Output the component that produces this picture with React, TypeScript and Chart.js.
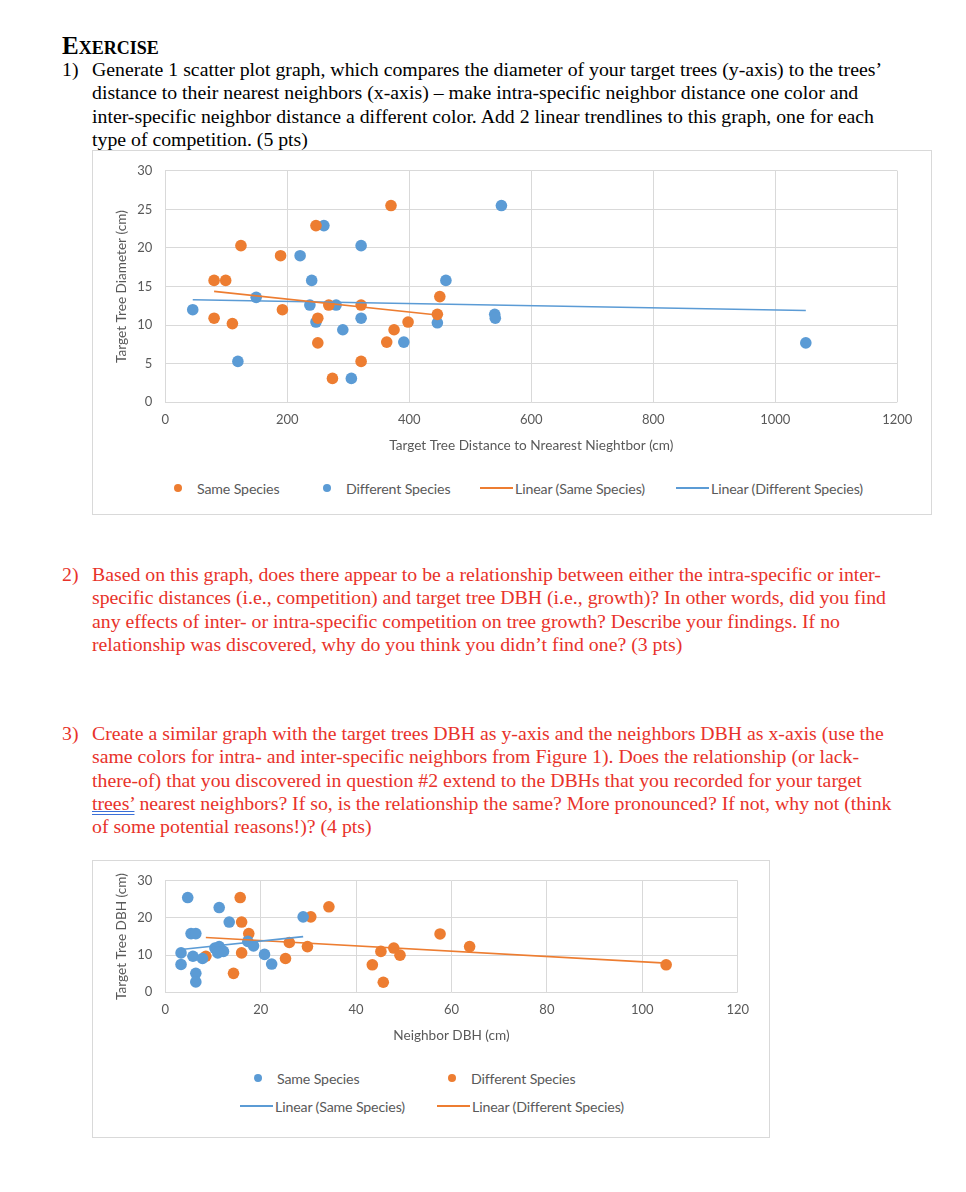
import { useEffect, useRef } from 'react';
import Chart from 'chart.js/auto';

const ORANGE = '#ED7D31';
const BLUE = '#5B9BD5';
const RED = '#E8322A';
const AXIS_TEXT = '#595959';
const GRID = '#D9D9D9';
const CHART_FONT = 'Lato, "Open Sans", sans-serif';
const DOC_FONT = '"Liberation Serif", "Times New Roman", serif';

// figure 1: target tree distance to nearest neighbor (cm) vs target tree diameter (cm)
const sameDist = [80, 99, 124, 80, 110, 189, 192, 247, 250, 250, 268, 274, 321, 321, 370, 363, 375, 398, 446, 450];
const sameDiam = [15.8, 15.8, 20.3, 10.9, 10.2, 19.0, 12.0, 22.9, 10.9, 7.7, 12.6, 3.1, 12.6, 5.3, 25.5, 7.8, 9.4, 10.4, 11.4, 13.7];
const diffDist = [45, 119, 149, 221, 240, 237, 247, 260, 280, 291, 305, 321, 321, 391, 446, 460, 540, 541, 551, 1050];
const diffDiam = [12.0, 5.3, 13.6, 19.0, 15.8, 12.6, 10.4, 22.9, 12.6, 9.4, 3.1, 20.3, 10.9, 7.8, 10.3, 15.8, 11.4, 10.9, 25.5, 7.7];

// figure 2: neighbor DBH (cm) vs target tree DBH (cm)
const sameNbrDbh = [4.7, 11.3, 13.4, 5.4, 6.4, 3.3, 3.3, 5.8, 7.8, 6.4, 6.4, 10.4, 11.3, 11.5, 12.2, 11.0, 17.3, 18.5, 20.8, 22.3, 28.9];
const sameTgtDbh = [25.5, 22.8, 18.9, 15.8, 15.8, 10.6, 7.5, 9.7, 9.1, 5.1, 2.8, 11.9, 12.3, 11.0, 11.0, 10.6, 13.7, 12.5, 10.2, 7.6, 20.3];
const diffNbrDbh = [15.7, 16.0, 17.5, 8.5, 16.0, 14.3, 25.2, 26.0, 29.8, 30.5, 34.3, 43.4, 45.2, 45.7, 47.9, 49.2, 57.6, 63.8, 105];
const diffTgtDbh = [25.5, 18.9, 15.8, 9.7, 10.6, 5.1, 9.1, 13.4, 12.3, 20.3, 23.0, 7.4, 11.0, 2.7, 11.9, 10.0, 15.7, 12.3, 7.4];

type Series = { label: string; color: string; xs: number[]; ys: number[] };

// least squares trendline over the range of the data
function trend(xs: number[], ys: number[]) {
  const n = xs.length;
  const mx = xs.reduce((a, b) => a + b, 0) / n;
  const my = ys.reduce((a, b) => a + b, 0) / n;
  let sxy = 0;
  let sxx = 0;
  for (let i = 0; i < n; i++) {
    sxy += (xs[i] - mx) * (ys[i] - my);
    sxx += (xs[i] - mx) * (xs[i] - mx);
  }
  const b = sxy / sxx;
  const a = my - b * mx;
  const lo = Math.min(...xs);
  const hi = Math.max(...xs);
  return [
    { x: lo, y: a + b * lo },
    { x: hi, y: a + b * hi },
  ];
}

type ScatterProps = {
  series: Series[];
  xMax: number;
  xStep: number;
  yStep: number;
  xTitle: string;
  yTitle: string;
  width: number;
  height: number;
  padTop: number;
  padRight: number;
};

const Scatter = ({ series, xMax, xStep, yStep, xTitle, yTitle, width, height, padTop, padRight }: ScatterProps) => {
  const chartRef = useRef<HTMLCanvasElement>(null);

  useEffect(() => {
    const ctx = chartRef.current!.getContext('2d')!;
    const tickFont = { family: CHART_FONT, size: 13 };
    const titleFont = { family: CHART_FONT, size: 13.6 };
    const points = series.map(s => ({
      label: s.label,
      data: s.xs.map((x, i) => ({ x, y: s.ys[i] })),
      backgroundColor: s.color,
      borderColor: s.color,
      pointRadius: 5.8,
      pointHoverRadius: 5.8,
      borderWidth: 0,
      order: 2,
    }));
    const lines = series.map(s => ({
      label: 'Linear (' + s.label + ')',
      data: trend(s.xs, s.ys),
      showLine: true,
      borderColor: s.color,
      backgroundColor: s.color,
      borderWidth: 1.6,
      pointRadius: 0,
      order: 1,
    }));
    const chartInstance = new Chart(ctx, {
      type: 'scatter',
      data: { datasets: [...points, ...lines] as any },
      options: {
        animation: false,
        responsive: false,
        layout: { padding: { top: padTop, right: padRight, left: 0, bottom: 0 } },
        plugins: { legend: { display: false }, tooltip: { enabled: false } },
        scales: {
          x: {
            type: 'linear',
            min: 0,
            max: xMax,
            ticks: { stepSize: xStep, color: AXIS_TEXT, font: tickFont, padding: 10, callback: (v: any) => String(v) },
            grid: { color: GRID, drawTicks: false },
            border: { display: false },
            title: { display: true, text: xTitle, color: AXIS_TEXT, font: titleFont, padding: { bottom: 6 } },
            afterFit: (s: any) => {
              s.height = 57.7;
            },
          },
          y: {
            type: 'linear',
            min: 0,
            max: 30,
            ticks: { stepSize: yStep, color: AXIS_TEXT, font: tickFont, padding: 13 },
            grid: { color: GRID, drawTicks: false },
            border: { display: false },
            title: { display: true, text: yTitle, color: AXIS_TEXT, font: titleFont, padding: { top: 21 } },
            afterFit: (s: any) => {
              s.width = 73.3;
            },
          },
        },
      },
    });

    return () => {
      chartInstance.destroy();
    };
  }, [series]);

  return <canvas ref={chartRef} width={width} height={height} style={{ width, height, display: 'block' }} />;
};

const Dot = ({ color }: { color: string }) => (
  <span style={{ display: 'inline-block', width: 8, height: 8, borderRadius: 4, background: color }} />
);
const Dash = ({ color }: { color: string }) => (
  <span style={{ display: 'inline-block', width: 33, height: 2, background: color }} />
);

type LegendItem = { left: number; top: number; mark: 'dot' | 'line'; color: string; text: string };

const Legend = ({ items }: { items: LegendItem[] }) => (
  <>
    {items.map(it => (
      <div
        key={it.text}
        style={{
          position: 'absolute',
          left: it.left,
          top: it.top - 9,
          height: 18,
          display: 'flex',
          alignItems: 'center',
          gap: it.mark === 'dot' ? 15 : 2,
          fontFamily: CHART_FONT,
          fontSize: 14.2,
          letterSpacing: -0.15,
          color: AXIS_TEXT,
          whiteSpace: 'nowrap',
        }}
      >
        {it.mark === 'dot' ? <Dot color={it.color} /> : <Dash color={it.color} />}
        <span>{it.text}</span>
      </div>
    ))}
  </>
);

const Question = ({ num, lines, top, color }: { num: string; lines: React.ReactNode[]; top: number; color: string }) => (
  <div
    style={{
      position: 'absolute',
      left: 54,
      top,
      display: 'flex',
      fontFamily: DOC_FONT,
      fontSize: 19.8,
      lineHeight: '23.3px',
      color,
      whiteSpace: 'nowrap',
    }}
  >
    <div style={{ width: 30 }}>{num}</div>
    <div>
      {lines.map((l, i) => (
        <div key={i}>{l}</div>
      ))}
    </div>
  </div>
);

const fig1Series: Series[] = [
  { label: 'Same Species', color: ORANGE, xs: sameDist, ys: sameDiam },
  { label: 'Different Species', color: BLUE, xs: diffDist, ys: diffDiam },
];
const fig2Series: Series[] = [
  { label: 'Same Species', color: BLUE, xs: sameNbrDbh, ys: sameTgtDbh },
  { label: 'Different Species', color: ORANGE, xs: diffNbrDbh, ys: diffTgtDbh },
];

const box = (left: number, top: number, width: number, height: number): React.CSSProperties => ({
  position: 'absolute',
  left,
  top,
  width,
  height,
  border: '1px solid #D9D9D9',
  boxSizing: 'border-box',
});

export default function App() {
  return (
    <div style={{ position: 'relative', width: 950, height: 1176 }}>
      <div
        style={{
          position: 'absolute',
          left: 54,
          top: 23,
          fontFamily: DOC_FONT,
          fontWeight: 'bold',
          fontVariant: 'small-caps',
          fontSize: 25,
          lineHeight: '29px',
        }}
      >
        Exercise
      </div>
      <Question
        num="1)"
        top={50}
        color="#000"
        lines={[
          'Generate 1 scatter plot graph, which compares the diameter of your target trees (y-axis) to the trees’',
          'distance to their nearest neighbors (x-axis) – make intra-specific neighbor distance one color and',
          'inter-specific neighbor distance a different color. Add 2 linear trendlines to this graph, one for each',
          'type of competition. (5 pts)',
        ]}
      />

      <div style={box(84, 142, 840, 365)} />
      <div style={{ position: 'absolute', left: 84, top: 142 }}>
        <Scatter
          series={fig1Series}
          xMax={1200}
          xStep={200}
          yStep={5}
          xTitle="Target Tree Distance to Nrearest Nieghtbor (cm)"
          yTitle="Target Tree Diameter (cm)"
          width={840}
          height={310}
          padTop={18.3}
          padRight={34.7}
        />
      </div>
      <Legend
        items={[
          { left: 166, top: 480, mark: 'dot', color: ORANGE, text: 'Same Species' },
          { left: 315, top: 480, mark: 'dot', color: BLUE, text: 'Different Species' },
          { left: 472, top: 480, mark: 'line', color: ORANGE, text: 'Linear (Same Species)' },
          { left: 668, top: 480, mark: 'line', color: BLUE, text: 'Linear (Different Species)' },
        ]}
      />

      <Question
        num="2)"
        top={555}
        color={RED}
        lines={[
          'Based on this graph, does there appear to be a relationship between either the intra-specific or inter-',
          'specific distances (i.e., competition) and target tree DBH (i.e., growth)? In other words, did you find',
          'any effects of inter- or intra-specific competition on tree growth? Describe your findings. If no',
          'relationship was discovered, why do you think you didn’t find one? (3 pts)',
        ]}
      />
      <Question
        num="3)"
        top={714}
        color={RED}
        lines={[
          'Create a similar graph with the target trees DBH as y-axis and the neighbors DBH as x-axis (use the',
          'same colors for intra- and inter-specific neighbors from Figure 1). Does the relationship (or lack-',
          'there-of) that you discovered in question #2 extend to the DBHs that you recorded for your target',
          <>
            <span style={{ textDecoration: 'underline double #3A6FD8' }}>trees’</span> nearest neighbors? If so, is
            the relationship the same? More pronounced? If not, why not (think
          </>,
          'of some potential reasons!)? (4 pts)',
        ]}
      />

      <div style={box(84, 852, 678, 278)} />
      <div style={{ position: 'absolute', left: 84, top: 852 }}>
        <Scatter
          series={fig2Series}
          xMax={120}
          xStep={20}
          yStep={10}
          xTitle="Neighbor DBH (cm)"
          yTitle="Target Tree DBH (cm)"
          width={678}
          height={190}
          padTop={17.3}
          padRight={32.3}
        />
      </div>
      <Legend
        items={[
          { left: 246, top: 1070, mark: 'dot', color: BLUE, text: 'Same Species' },
          { left: 440, top: 1070, mark: 'dot', color: ORANGE, text: 'Different Species' },
          { left: 232, top: 1098, mark: 'line', color: BLUE, text: 'Linear (Same Species)' },
          { left: 429, top: 1098, mark: 'line', color: ORANGE, text: 'Linear (Different Species)' },
        ]}
      />
    </div>
  );
}
